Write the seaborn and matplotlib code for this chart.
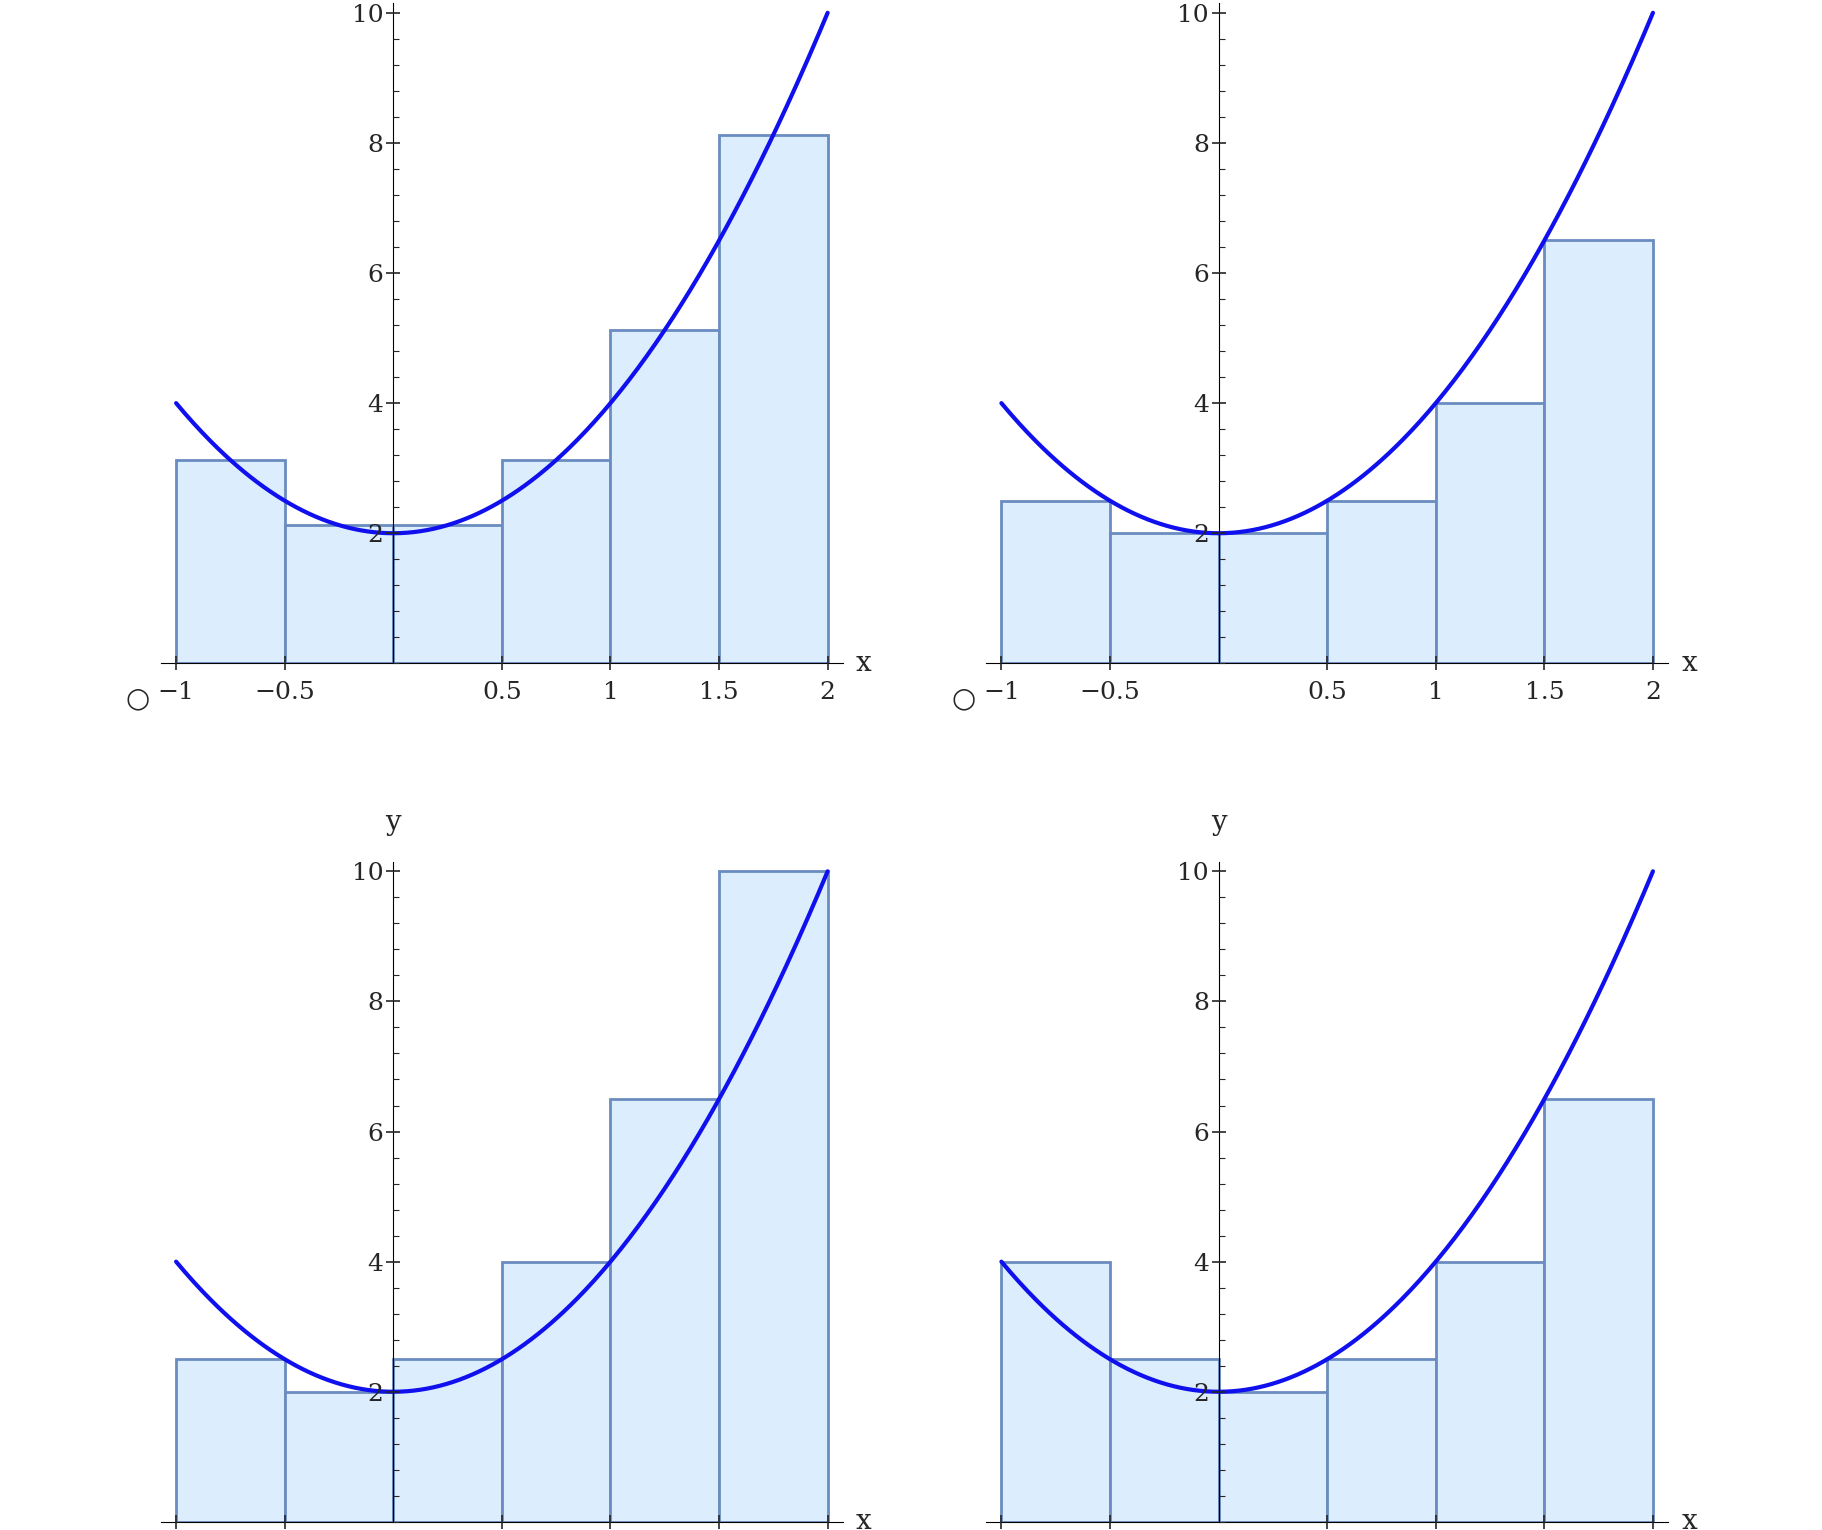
import numpy as np
import pandas as pd
import seaborn as sns
import matplotlib.pyplot as plt

# bin edges and rectangle heights for each panel (f(x) = 2x^2 + 2)
edges = [-1, -0.5, 0, 0.5, 1, 1.5, 2]
mids = [-0.75, -0.25, 0.25, 0.75, 1.25, 1.75]
h_midpoint = [3.125, 2.125, 2.125, 3.125, 5.125, 8.125]
h_lower = [2.5, 2.0, 2.0, 2.5, 4.0, 6.5]
h_right = [2.5, 2.0, 2.5, 4.0, 6.5, 10.0]
h_left = [4.0, 2.5, 2.0, 2.5, 4.0, 6.5]

x_ticks = [-1, -0.5, 0.5, 1, 1.5, 2]
x_labels = ['\u22121', '\u22120.5', '0.5', '1', '1.5', '2']
y_ticks = [2, 4, 6, 8, 10]

xc = np.linspace(-1, 2, 300)
curve = pd.DataFrame({'x': xc, 'y': 2 * xc**2 + 2})

sns.set_style('white')
plt.rcParams['font.family'] = ['DejaVu Serif']

fig = plt.figure(figsize=(18.22, 15.3), dpi=100)
W, H = 1552, 1317
xl, xr = -1.07, 2.07
yb, yt = 0, 10.15


def make_ax(px_left, py_zero):
    # px_left = pixel of x=-1, py_zero = pixel of y=0 (reference scale)
    ppu_x = 185.0
    ppu_y = 56.0
    left = px_left + (xl + 1) * ppu_x
    width = (xr - xl) * ppu_x
    height = (yt - yb) * ppu_y
    return fig.add_axes([left / W, 1 - py_zero / H, width / W, height / H])


panels = [(150, 571, h_midpoint), (853, 571, h_lower),
          (150, 1310, h_right), (853, 1310, h_left)]

for px, py, heights in panels:
    ax = make_ax(px, py)
    df = pd.DataFrame({'x': mids, 'w': heights})
    sns.histplot(data=df, x='x', weights='w', bins=edges, ax=ax,
                 color='#dcedfd', edgecolor='#6a8cc0', linewidth=2, alpha=1)
    sns.lineplot(data=curve, x='x', y='y', ax=ax, color='#1010ee', lw=3)
    ax.set_axisbelow(False)
    ax.set_xlim(xl, xr)
    ax.set_ylim(yb, yt)
    ax.set_xlabel('')
    ax.set_ylabel('')
    for s in ['top', 'right']:
        ax.spines[s].set_visible(False)
    ax.spines['left'].set_position(('data', 0))
    ax.spines['bottom'].set_position(('data', 0))
    ax.spines['left'].set_color('black')
    ax.spines['bottom'].set_color('black')
    ax.set_xticks(x_ticks)
    ax.set_xticklabels(x_labels)
    ax.set_yticks(y_ticks)
    ax.set_yticks(np.arange(0, 10.01, 0.4), minor=True)
    ax.tick_params(axis='x', which='major', direction='inout', length=10, width=1.2,
                   labelsize=18, pad=8)
    ax.tick_params(axis='y', which='major', direction='inout', length=10, width=1.2,
                   labelsize=18, pad=2)
    ax.tick_params(axis='y', which='minor', direction='in', length=4, width=0.8)
    ax.tick_params(bottom=True, left=True, which='both')
    for lab in ax.get_yticklabels():
        lab.set_zorder(10)
    ax.text(2.13, 0, 'x', fontsize=20, va='center', ha='left', clip_on=False)
    ax.text(0, 10.55, 'y', fontsize=20, va='bottom', ha='center', clip_on=False)
    ax.text(-1.12, -0.55, '\u25cb', fontsize=20, va='center', ha='right',
            clip_on=False)

fig.savefig('out.png', dpi=100)
